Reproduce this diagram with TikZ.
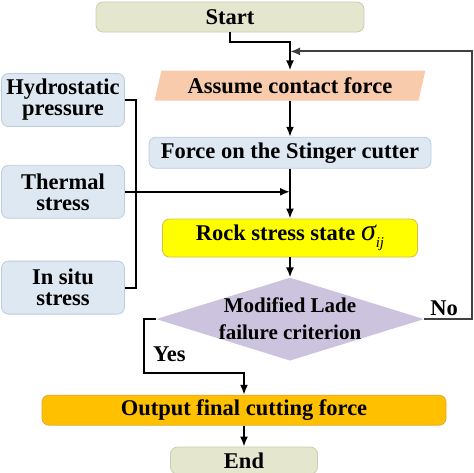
\documentclass[tikz,border=0pt]{standalone}
\usepackage{fontspec}
\setmainfont{Liberation Serif}
\usetikzlibrary{arrows.meta,positioning,shapes.geometric,calc}
\definecolor{endfill}{RGB}{228,231,206}
\definecolor{endline}{RGB}{200,206,176}
\definecolor{forcefill}{RGB}{248,203,172}
\definecolor{inputfill}{RGB}{222,232,243}
\definecolor{inputline}{RGB}{188,204,224}
\definecolor{rockfill}{RGB}{255,255,0}
\definecolor{rockline}{RGB}{214,190,70}
\definecolor{critfill}{RGB}{204,196,222}
\definecolor{outfill}{RGB}{255,192,0}
\definecolor{outline}{RGB}{226,168,40}

\begin{document}
\begin{tikzpicture}[
  x=1pt, y=1pt,
  node distance=36pt,
  font=\fontsize{22.5}{21}\selectfont\bfseries,
  box/.style={draw, rounded corners=7pt, align=center, inner sep=2pt, line width=0.8pt},
  termbox/.style={box, draw=endline, fill=endfill},
  inbox/.style={box, draw=inputline, fill=inputfill},
  arrow/.style={-{Latex[length=10pt,width=8pt]}, line width=1.9pt},
  line/.style={line width=1.9pt}
]
\useasboundingbox (0,0) rectangle (474,-472);

\node[termbox, minimum width=268pt, minimum height=30pt] (start) at (230,-17) {Start};
\node[trapezium, trapezium left angle=73, trapezium right angle=107, trapezium stretches=true,
  fill=forcefill, minimum width=271pt, minimum height=30pt, inner sep=1pt,
  below=38pt of start, xshift=60pt] (assume) {Assume contact force};
\node[inbox, minimum width=282pt, minimum height=31pt, below=36pt of assume] (force) {Force on the Stinger cutter};
\node[box, draw=rockline, fill=rockfill, minimum width=255pt, minimum height=38pt,
  below=50pt of force] (rock) {Rock stress state
  {\mdseries\itshape\fontsize{30}{30}\selectfont σ}\raisebox{-7pt}{\mdseries\itshape\fontsize{15}{15}\selectfont ij}};
\node[diamond, fill=critfill, aspect=3.2, inner sep=-5pt, minimum width=268pt, minimum height=83pt,
  align=center, font=\fontsize{21}{27}\selectfont\bfseries, below=20pt of rock] (crit) {Modified Lade\\failure criterion};
\node[box, draw=outline, fill=outfill, minimum width=404pt, minimum height=30pt,
  below=34pt of crit, xshift=-46pt] (output) {Output final cutting force};
\node[termbox, minimum width=147pt, minimum height=27pt, below=21pt of output] (finish) {End};

% loads acting on the rock
\node[inbox, minimum width=123pt, minimum height=53pt] (hydro) at (63,-100) {Hydrostatic\\pressure};
\node[inbox, minimum width=123pt, minimum height=53pt, below=38pt of hydro] (thermal) {Thermal\\stress};
\node[inbox, minimum width=123pt, minimum height=53pt, below=42pt of thermal] (insitu) {In situ\\stress};

\node[anchor=south west, inner sep=1pt] (no) at ([xshift=5pt,yshift=2pt]crit.east) {No};
\node[anchor=north west, inner sep=1pt] (yes) at ([xshift=-4pt,yshift=-26pt]crit.west) {Yes};

\coordinate[above=19pt of assume.north] (loop);
\coordinate (heat) at (force.south |- thermal.east);
\coordinate[above=22pt of output.north] (pass);

\draw[line] (start.south) -- ++(0,-10) -| (loop);
\draw[arrow] (loop) -- (assume.north);
\draw[arrow] (assume) -- (force);
\draw[arrow] (force) -- (rock);
\draw[line] (hydro.east) -- ++(11,0) |- (insitu.east);
\draw[arrow] (thermal.east) -- (heat);
\draw[arrow] (rock) -- (crit);
\draw[arrow, draw=black!75] (crit.east) -- ++(48,0) |- (loop);
\draw[arrow] (crit.west) -- ++(-12,0) |- (pass) -- (output.north);
\draw[arrow] (output) -- (finish);

\end{tikzpicture}
\end{document}
